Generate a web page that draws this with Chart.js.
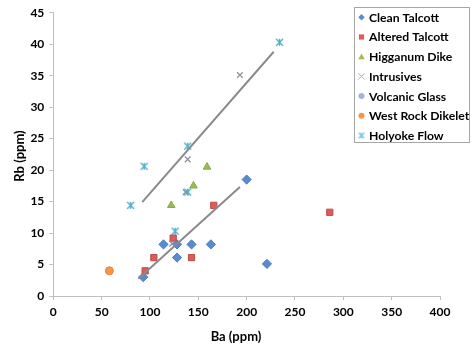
<!DOCTYPE html>
<html>
<head>
<meta charset="utf-8">
<script src="https://cdn.jsdelivr.net/npm/chart.js@4"></script>
<style>
  html, body { margin: 0; padding: 0; background: #fff; }
  #wrap { width: 474px; height: 355px; position: relative; }
</style>
</head>
<body>
<div id="wrap"><canvas id="c" width="474" height="355"></canvas></div>
<script>
// ---- data ----
const seriesNames = ['Clean Talcott', 'Altered Talcott', 'Higganum Dike', 'Intrusives', 'Volcanic Glass', 'West Rock Dikelet', 'Holyoke Flow'];

const cleanTalcottBa = [93, 114, 128, 143, 163, 128, 200, 221];
const cleanTalcottRb = [3.0, 8.2, 8.2, 8.2, 8.2, 6.1, 18.5, 5.1];

const alteredTalcottBa = [95, 104, 124, 143, 166, 286];
const alteredTalcottRb = [4.0, 6.1, 9.2, 6.1, 14.4, 13.3];

const higganumBa = [122, 145, 159];
const higganumRb = [14.4, 17.5, 20.5];

const intrusivesBa = [193, 139, 137, 123];
const intrusivesRb = [35.1, 21.7, 16.5, 8.3];

const volcanicGlassBa = [];
const volcanicGlassRb = [];

const westRockBa = [58];
const westRockRb = [4.0];

const holyokeBa = [234, 139, 94, 80, 139, 126];
const holyokeRb = [40.3, 23.8, 20.6, 14.4, 16.5, 10.3];

const trendUpperBa = [92, 228];
const trendUpperRb = [14.9, 38.8];
const trendLowerBa = [88, 193];
const trendLowerRb = [2.75, 17.3];

const xTicks = [0, 50, 100, 150, 200, 250, 300, 350, 400];
const yTicks = [0, 5, 10, 15, 20, 25, 30, 35, 40, 45];

const xTitle = 'Ba (ppm)';
const yTitle = 'Rb (ppm)';

// ---- helpers ----
function pts(xs, ys) { return xs.map((x, i) => ({ x: x, y: ys[i] })); }

function starMarker(color, r) {
  const s = Math.ceil(r * 2 + 4);
  const cv = document.createElement('canvas');
  cv.width = s; cv.height = s;
  const g = cv.getContext('2d');
  const c = s / 2;
  g.strokeStyle = color; g.lineWidth = 1.3;
  g.beginPath();
  g.moveTo(c - r, c - r); g.lineTo(c + r, c + r);
  g.moveTo(c + r, c - r); g.lineTo(c - r, c + r);
  g.moveTo(c, c - r); g.lineTo(c, c + r);
  g.stroke();
  return cv;
}

const FONT = 'Lato, "Open Sans", sans-serif';
const holyokeImg = starMarker('#4bacc6', 3.5);
const holyokeLegendImg = starMarker('#7cc3d6', 2.8);

const styles = [
  { style: 'rectRot', fill: '#5a8bd0', stroke: '#4a7ebb', r: 4.6 },
  { style: 'rect', fill: '#dc5c59', stroke: '#be4b48', r: 4.4 },
  { style: 'triangle', fill: '#9bbb59', stroke: '#8aaa48', r: 4.4 },
  { style: 'crossRot', fill: '#8f8fa0', stroke: '#8f8fa0', r: 4 },
  { style: 'circle', fill: '#a3b4dc', stroke: '#93a4cc', r: 4 },
  { style: 'circle', fill: '#f79646', stroke: '#e8853a', r: 4 },
  { style: holyokeImg, fill: '#4bacc6', stroke: '#4bacc6', r: 4 }
];
const seriesData = [
  pts(cleanTalcottBa, cleanTalcottRb),
  pts(alteredTalcottBa, alteredTalcottRb),
  pts(higganumBa, higganumRb),
  pts(intrusivesBa, intrusivesRb),
  pts(volcanicGlassBa, volcanicGlassRb),
  pts(westRockBa, westRockRb),
  pts(holyokeBa, holyokeRb)
];

const datasets = seriesNames.map((name, i) => ({
  label: name,
  data: seriesData[i],
  showLine: false,
  pointStyle: styles[i].style,
  pointRadius: styles[i].r,
  pointHoverRadius: styles[i].r,
  pointBackgroundColor: styles[i].fill,
  pointBorderColor: styles[i].stroke,
  pointBorderWidth: i === 3 ? 1.3 : 1,
  order: 10 - i
}));
[[trendUpperBa, trendUpperRb], [trendLowerBa, trendLowerRb]].forEach((t, k) => {
  datasets.push({
    label: 'trend' + k,
    data: pts(t[0], t[1]),
    showLine: true,
    borderColor: '#8a8a8a',
    borderWidth: 2,
    pointRadius: 0,
    fill: false,
    order: 0
  });
});

const overlay = {
  id: 'overlay',
  afterDraw(chart) {
    const ctx = chart.ctx;
    ctx.save();
    // axis titles
    ctx.fillStyle = '#000';
    ctx.font = 'bold 13px ' + FONT;
    ctx.textAlign = 'center';
    ctx.textBaseline = 'middle';
    ctx.fillText(xTitle, 236, 337);
    ctx.save();
    ctx.translate(20, 156);
    ctx.rotate(-Math.PI / 2);
    ctx.fillText(yTitle, 0, 0);
    ctx.restore();

    // legend box
    const bx = 354.5, by = 7.5, bw = 115, bh = 135;
    ctx.fillStyle = '#fff';
    ctx.fillRect(bx, by, bw, bh);
    ctx.strokeStyle = '#a6a6a6';
    ctx.lineWidth = 1;
    ctx.strokeRect(bx, by, bw, bh);
    ctx.font = 'bold 12.2px ' + FONT;
    ctx.textAlign = 'left';
    seriesNames.forEach((name, i) => {
      const cy = 17.3 + i * 19.7;
      const cx = 361.5;
      const st = styles[i];
      ctx.fillStyle = st.fill;
      ctx.strokeStyle = st.stroke;
      ctx.lineWidth = 1;
      const r = 3.2;
      ctx.beginPath();
      if (st.style === 'rectRot') {
        ctx.moveTo(cx, cy - r); ctx.lineTo(cx + r, cy); ctx.lineTo(cx, cy + r); ctx.lineTo(cx - r, cy); ctx.closePath();
        ctx.fill();
      } else if (st.style === 'rect') {
        ctx.rect(cx - 2.6, cy - 2.6, 5.2, 5.2); ctx.fill();
      } else if (st.style === 'triangle') {
        ctx.moveTo(cx, cy - r); ctx.lineTo(cx + r, cy + r * 0.8); ctx.lineTo(cx - r, cy + r * 0.8); ctx.closePath(); ctx.fill();
      } else if (st.style === 'crossRot') {
        ctx.strokeStyle = '#b0b0bc';
        ctx.moveTo(cx - r, cy - r); ctx.lineTo(cx + r, cy + r);
        ctx.moveTo(cx + r, cy - r); ctx.lineTo(cx - r, cy + r); ctx.stroke();
      } else if (st.style === 'circle') {
        ctx.arc(cx, cy, 3, 0, Math.PI * 2); ctx.fill();
      } else {
        ctx.drawImage(holyokeLegendImg, cx - holyokeLegendImg.width / 2, cy - holyokeLegendImg.height / 2);
      }
      ctx.fillStyle = '#000';
      ctx.fillText(name, 369, cy + 0.5);
    });
    ctx.restore();
  }
};

new Chart(document.getElementById('c'), {
  type: 'scatter',
  data: { datasets: datasets },
  options: {
    responsive: false,
    animation: false,
    devicePixelRatio: 1,
    layout: { padding: { left: 0, right: 34, top: 12.7, bottom: 0 } },
    plugins: { legend: { display: false }, tooltip: { enabled: false } },
    scales: {
      x: {
        type: 'linear',
        min: 0, max: 400,
        afterBuildTicks: (s) => { s.ticks = xTicks.map(v => ({ value: v })); },
        afterFit: (s) => { s.height = 59; },
        grid: { display: true, drawOnChartArea: false, tickLength: 4, color: '#bfbfbf' },
        border: { color: '#bfbfbf' },
        ticks: { color: '#000', font: { family: FONT, size: 12, weight: 'bold' }, padding: 5, maxRotation: 0 }
      },
      y: {
        type: 'linear',
        min: 0, max: 45,
        afterBuildTicks: (s) => { s.ticks = yTicks.map(v => ({ value: v })); },
        afterFit: (s) => { s.width = 53.3; },
        grid: { display: true, drawOnChartArea: false, tickLength: 4, color: '#bfbfbf' },
        border: { color: '#bfbfbf' },
        ticks: { color: '#000', font: { family: FONT, size: 12, weight: 'bold' }, padding: 5 }
      }
    }
  },
  plugins: [overlay]
});
</script>
</body>
</html>
